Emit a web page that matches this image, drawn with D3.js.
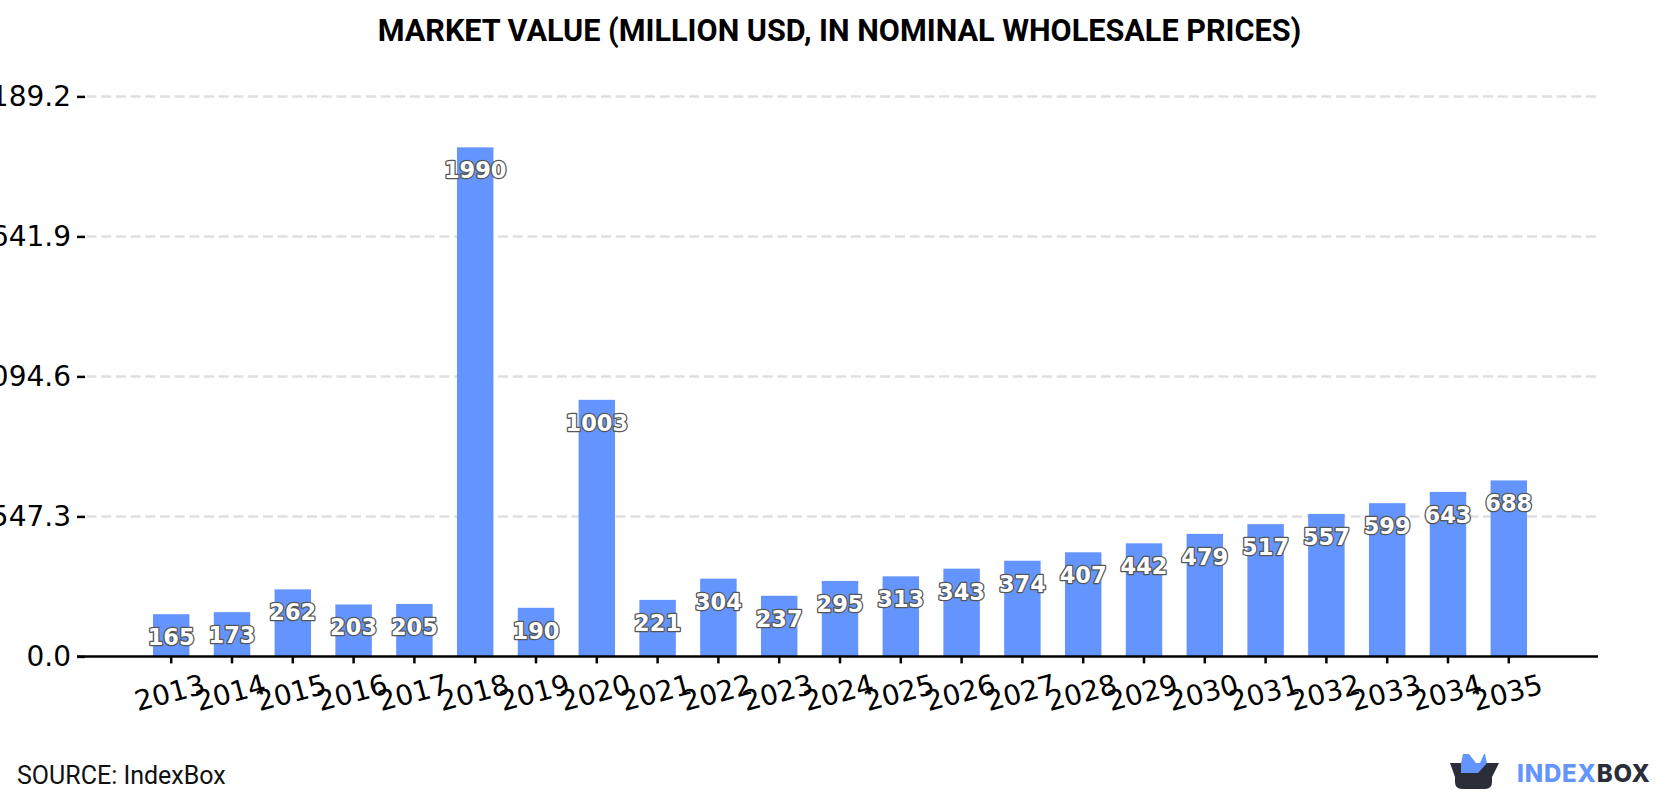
<!DOCTYPE html>
<html>
<head>
<meta charset="utf-8">
<script src="https://d3js.org/d3.v7.min.js"></script>
<style>
html,body{margin:0;padding:0;background:#fff;overflow:hidden}
svg{display:block}
</style>
</head>
<body>
<svg id="chart" width="1680" height="800"></svg>
<script>
const years = ["2013","2014","2015","2016","2017","2018","2019","2020","2021","2022","2023","2024","2025","2026","2027","2028","2029","2030","2031","2032","2033","2034","2035"];
const marketValue = [165,173,262,203,205,1990,190,1003,221,304,237,295,313,343,374,407,442,479,517,557,599,643,688];
const valueTicks = [0,547.3,1094.6,1641.9,2189.2];
const chartTitle = "MARKET VALUE (MILLION USD, IN NOMINAL WHOLESALE PRICES)";
const sourceText = "SOURCE: IndexBox";

const svg = d3.select("#chart");
const x = d3.scaleBand().domain(years).range([140.8,1539.2]).paddingInner(0.4).paddingOuter(0.2);
const y = d3.scaleLinear().domain([0,2189.2]).range([656.4,96.4]);
const axisLeftX = 85, axisRightX = 1598;

svg.append("text").attr("x",839.5).attr("y",41).attr("text-anchor","middle")
  .attr("font-family","Roboto").attr("font-weight",700).attr("font-size",30.6).attr("fill","#000").text(chartTitle);

// horizontal grid
svg.append("g").selectAll("line").data(valueTicks.slice(1)).join("line")
  .attr("x1",axisLeftX).attr("x2",1596.5)
  .attr("y1",d=>y(d)).attr("y2",d=>y(d))
  .attr("stroke","#dfdfdf").attr("stroke-width",2.5).attr("stroke-dasharray","10 4.7").attr("stroke-dashoffset",-1.5);

// bars
svg.append("g").selectAll("rect").data(marketValue).join("rect")
  .attr("x",(d,i)=>x(years[i])).attr("width",x.bandwidth())
  .attr("y",d=>y(d)).attr("height",d=>y(0)-y(d)).attr("fill","#6495fe");

// value axis
const yAxis = svg.append("g").attr("transform",`translate(${axisLeftX},0)`)
  .call(d3.axisLeft(y).tickValues(valueTicks).tickFormat(d3.format(".1f")).tickSize(8).tickPadding(6));
yAxis.select(".domain").remove();
yAxis.selectAll("line").attr("stroke","#000").attr("stroke-width",2.5);
yAxis.selectAll("text").attr("font-family","DejaVu Sans").attr("font-size",28).attr("fill","#000");

// category axis
const xAxis = svg.append("g").attr("transform",`translate(0,${y(0)})`)
  .call(d3.axisBottom(x).tickSize(7).tickSizeOuter(0).tickPadding(0));
xAxis.select(".domain").remove();
xAxis.selectAll("line").attr("stroke","#000").attr("stroke-width",2.5);
xAxis.selectAll("text").attr("font-family","DejaVu Sans").attr("font-size",28).attr("fill","#000")
  .attr("text-anchor","middle").attr("dy",null)
  .attr("transform","translate(-1,38) rotate(-15)").attr("y",0).attr("dominant-baseline","middle");
svg.append("line").attr("x1",axisLeftX-8).attr("x2",axisRightX).attr("y1",y(0)).attr("y2",y(0))
  .attr("stroke","#000").attr("stroke-width",2.5);

// value labels inside the bars
svg.append("g").selectAll("text").data(marketValue).join("text")
  .attr("x",(d,i)=>x(years[i])+x.bandwidth()/2).attr("y",d=>y(d)+31)
  .attr("text-anchor","middle").attr("font-family","DejaVu Sans").attr("font-weight",700).attr("font-size",22.5)
  .attr("fill","#fff").attr("stroke","#555").attr("stroke-width",2.6).attr("paint-order","stroke")
  .attr("stroke-linejoin","round").text(d=>d);

svg.append("text").attr("x",17).attr("y",784).attr("font-family","Roboto").attr("font-size",25).attr("fill","#111").text(sourceText);

// brand mark
const logo = svg.append("g").attr("transform","translate(1400,730)");
logo.append("path").attr("fill","#6495fe").attr("d","M61 33 L63 24 L69 24 L76 33 L80 33 L84 24 L85 24 L87 33 L87 43 L75 43 L61 43 Z");
logo.append("path").attr("fill","#2b2d39").attr("d","M50 33 L99 33 L92 47 L92 52 Q92 59 85 59 L62 59 Q55 59 55 52 L55 47 Z");
logo.append("path").attr("fill","#6495fe").attr("d","M61 33 L87 33 L78 43 L61 43 Z");
svg.append("text").attr("x",1517).attr("y",782).attr("font-family","Inter, Roboto").attr("font-weight",800).attr("font-size",24).attr("letter-spacing",0.85)
  .call(t=>{t.append("tspan").attr("fill","#6495fe").text("INDEX");t.append("tspan").attr("fill","#2b2d39").text("BOX");});
</script>
</body>
</html>
